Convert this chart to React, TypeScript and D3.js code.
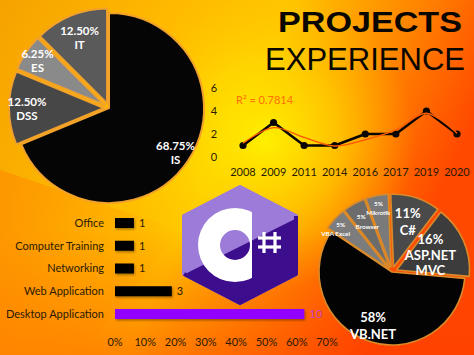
import React from "react";
import * as d3 from "d3";

// ---------- DATA ----------
const areaLabels = ["IS", "DSS", "ES", "IT"];
const areaShares = [68.75, 12.5, 6.25, 12.5];
const areaShareLabels = ["68.75%", "12.50%", "6.25%", "12.50%"];

const years = ["2008", "2009", "2011", "2014", "2016", "2017", "2019", "2020"];
const projectsPerYear = [1, 3, 1, 1, 2, 2, 4, 2];
const trendValues = [1.2, 2.55, 1.7, 0.96, 1.5, 2.35, 3.8, 2.06];
const yTicks = [0, 2, 4, 6];
const rSquaredLabel = "R² = 0.7814";

const appCategories = ["Office", "Computer Training", "Networking", "Web Application", "Desktop Application"];
const appCounts = [1, 1, 1, 3, 10];
const shareTicks = [0, 0.1, 0.2, 0.3, 0.4, 0.5, 0.6, 0.7];

const techLabels = ["VB.NET", "VBA Excel", "Browser", "Mikrotik", "C#", "ASP.NET MVC"];
const techShares = [58, 5, 5, 5, 11, 16];
const techShareLabels = ["58%", "5%", "5%", "5%", "11%", "16%"];

// ---------- STYLE ----------
const FONT = "Lato, 'Open Sans', sans-serif";
const W = 474;
const H = 355;
const TXT = "#2a1a00";

export default function App() {
  // top-left pie
  const aCx = 109, aCy = 108, aR = 95;
  const pieA = d3.pie<number>().sort(null).startAngle(0).endAngle(2 * Math.PI)(areaShares);
  const arcA = d3.arc<d3.PieArcDatum<number>>().innerRadius(0).outerRadius(aR);
  const areaFill = ["#050505", "#474747", "#8a8a8a", "#5a5a5a"];
  const areaLabelR = [80, 82, 86, 77];

  // line chart
  const x = d3.scalePoint<string>().domain(years).range([243, 457]);
  const y = d3.scaleLinear().domain([0, 6]).range([157, 88]);
  const line = d3.line<number>().x((_, i) => x(years[i])!).y((d) => y(d));
  const trend = d3
    .line<number>()
    .x((_, i) => x(years[i])!)
    .y((d) => y(d))
    .curve(d3.curveCatmullRom.alpha(0.5));

  // bar chart
  const total = d3.sum(appCounts);
  const bx = d3.scaleLinear().domain([0, 0.7]).range([115, 327]);
  const by = d3.scalePoint<string>().domain(appCategories).range([223, 314]);
  const barH = 10;

  // bottom-right pie
  const bCx = 392, bCy = 272, bR = 73;
  const start = (95 * Math.PI) / 180;
  const pieB = d3.pie<number>().sort(null).startAngle(start).endAngle(start + 2 * Math.PI)(techShares);
  const arcB = d3.arc<d3.PieArcDatum<number>>().innerRadius(0).outerRadius(bR);
  const techFill = ["#030303", "#7c7c7c", "#6c6c6c", "#7a7a7a", "#4a4a4a", "#3c3c3c"];
  const techLabelR = [57, 70, 63, 70, 52, 42];
  const techNameDx = [0, -5, 6, 0, 0, 0];

  // C# logo geometry
  const lx = 240, ly = 245, hw = 56, hh = 58;
  const hex = [
    [lx, ly - hh],
    [lx + hw, ly - hh / 2],
    [lx + hw, ly + hh / 2],
    [lx, ly + hh],
    [lx - hw, ly + hh / 2],
    [lx - hw, ly - hh / 2],
  ];
  const hexPath = "M" + hex.map((p) => p.join(",")).join("L") + "Z";
  const cX = 235, cY = 245;

  return (
    <div style={{ position: "fixed", left: 0, top: 0 }}>
      <svg width={W} height={H} viewBox={`0 0 ${W} ${H}`} style={{ display: "block" }}>
        <defs>
          <linearGradient id="bg" x1="0" y1="0" x2="1" y2="0.35">
            <stop offset="0" stopColor="#f6a200" />
            <stop offset="0.35" stopColor="#ffbb00" />
            <stop offset="0.55" stopColor="#ffc400" />
            <stop offset="0.8" stopColor="#ff8200" />
            <stop offset="1" stopColor="#ff4800" />
          </linearGradient>
          <radialGradient id="glow" cx="265" cy="140" r="150" gradientUnits="userSpaceOnUse">
            <stop offset="0" stopColor="#fff200" stopOpacity="0.95" />
            <stop offset="0.5" stopColor="#ffe000" stopOpacity="0.6" />
            <stop offset="1" stopColor="#ffd000" stopOpacity="0" />
          </radialGradient>
          <linearGradient id="bottom" x1="0" y1="0" x2="0" y2="1">
            <stop offset="0" stopColor="#ff3a00" stopOpacity="0" />
            <stop offset="1" stopColor="#ff3a00" stopOpacity="0.45" />
          </linearGradient>
          <linearGradient id="leftDark" x1="0" y1="0" x2="1" y2="0">
            <stop offset="0" stopColor="#ff8800" stopOpacity="0.6" />
            <stop offset="1" stopColor="#ff8800" stopOpacity="0" />
          </linearGradient>
          <clipPath id="cclip">
            <rect x={cX - 45} y={cY - 45} width={45 + 17} height={90} />
          </clipPath>
          <clipPath id="hexclip">
            <path d={hexPath} />
          </clipPath>
          <filter id="sh" x="-10%" y="-10%" width="130%" height="140%">
            <feDropShadow dx="1" dy="1.5" stdDeviation="1" floodColor="#000" floodOpacity="0.35" />
          </filter>
        </defs>

        {/* background */}
        <rect width={W} height={H} fill="url(#bg)" />
        <rect width={W} height={H} fill="url(#glow)" />
        <rect y={230} width={W} height={125} fill="url(#bottom)" />
        <path d="M0,170 L180,230 L80,355 L0,355 Z" fill="url(#leftDark)" />

        {/* top-left pie */}
        <g transform={`translate(${aCx},${aCy})`}>
          {pieA.map((d, i) => {
            const mid = (d.startAngle + d.endAngle) / 2;
            const off = i === 0 ? 0 : 5;
            return (
              <path
                key={i}
                d={arcA(d)!}
                transform={`translate(${Math.sin(mid) * off},${-Math.cos(mid) * off})`}
                fill={areaFill[i]}
                stroke="#f2a22a"
                strokeWidth={2}
                strokeLinejoin="round"
              />
            );
          })}
          {pieA.map((d, i) => {
            const mid = (d.startAngle + d.endAngle) / 2;
            const r = areaLabelR[i];
            const px = Math.sin(mid) * r, py = -Math.cos(mid) * r;
            return (
              <text key={i} x={px} y={py} fill="#fff" fontFamily={FONT} fontWeight={700} fontSize={11.5} textAnchor="middle">
                <tspan x={px} dy="-2">{areaShareLabels[i]}</tspan>
                <tspan x={px} dy="14">{areaLabels[i]}</tspan>
              </text>
            );
          })}
        </g>

        {/* title */}
        <text x={278} y={32} fontFamily="'Liberation Sans', Arial, sans-serif" fontWeight={700} fontSize={29} fill="#0a0600" textLength={184} lengthAdjust="spacingAndGlyphs">PROJECTS</text>
        <text x={265} y={70} fontFamily="'Liberation Sans', Arial, sans-serif" fontWeight={400} fontSize={31} fill="#0a0600" textLength={200} lengthAdjust="spacingAndGlyphs">EXPERIENCE</text>

        {/* line chart */}
        {yTicks.map((t) => (
          <text key={t} x={214} y={y(t)} dy="0.35em" textAnchor="middle" fontFamily={FONT} fontSize={11} fill={TXT}>{t}</text>
        ))}
        {years.map((yr) => (
          <text key={yr} x={x(yr)} y={172} dy="0.35em" textAnchor="middle" fontFamily={FONT} fontSize={11} fill={TXT}>{yr}</text>
        ))}
        <path d={line(projectsPerYear)!} fill="none" stroke="#0a0500" strokeWidth={2.6} strokeLinejoin="round" />
        {projectsPerYear.map((v, i) => (
          <circle key={i} cx={x(years[i])} cy={y(v)} r={3.6} fill="#0a0500" />
        ))}
        <path d={trend(trendValues)!} fill="none" stroke="#ff5a00" strokeWidth={1.4} />
        <text x={236} y={100} dy="0.35em" fontFamily={FONT} fontSize={11} fill="#ff7000">{rSquaredLabel}</text>

        {/* bar chart */}
        {appCategories.map((c, i) => {
          const share = appCounts[i] / total;
          const isLast = i === appCategories.length - 1;
          const yc = by(c)!;
          return (
            <g key={c}>
              <text x={104} y={yc} dy="0.35em" textAnchor="end" fontFamily={FONT} fontSize={11} fill={TXT}>{c}</text>
              <rect x={bx(0)} y={yc - barH / 2} width={bx(share) - bx(0)} height={barH} fill={isLast ? "#9200ff" : "#050200"} filter="url(#sh)" />
              <text x={bx(share) + 5} y={yc} dy="0.35em" fontFamily={FONT} fontSize={11} fill={isLast ? "#c53fc0" : TXT}>{appCounts[i]}</text>
            </g>
          );
        })}
        {shareTicks.map((t) => (
          <text key={t} x={bx(t)} y={342} dy="0.35em" textAnchor="middle" fontFamily={FONT} fontSize={11} fill={TXT}>{d3.format(".0%")(t)}</text>
        ))}

        {/* C# logo */}
        <g>
          <path d={hexPath} fill="#9c7cd8" stroke="#9c7cd8" strokeWidth={4} strokeLinejoin="round" />
          <g clipPath="url(#hexclip)">
            <path d={`M${lx + hw + 5},${ly - hh / 2} L${lx - hw - 5},${ly + hh / 2 + 3} L${lx - hw - 5},${ly + hh + 5} L${lx + hw + 5},${ly + hh + 5} Z`} fill="#3c0e8e" />
          </g>
          <path d={`M${lx + hw},${ly - hh / 2} L${lx + hw},${ly + hh / 2} L${lx},${ly + hh} L${lx - hw},${ly + hh / 2}`} fill="none" stroke="#3c0e8e" strokeWidth={4} strokeLinejoin="round" />
          <g clipPath="url(#cclip)">
            <path
              d={`M${cX - 37},${cY} a37,37 0 1,0 74,0 a37,37 0 1,0 -74,0 Z M${cX - 15},${cY} a15,15 0 1,1 30,0 a15,15 0 1,1 -30,0 Z`}
              fill="#fff"
              fillRule="evenodd"
            />
          </g>
          <g stroke="#fff" strokeWidth={3.2}>
            <line x1={264} y1={232} x2={264} y2={253} />
            <line x1={275} y1={232} x2={275} y2={253} />
            <line x1={258} y1={238} x2={281} y2={238} />
            <line x1={258} y1={247} x2={281} y2={247} />
          </g>
        </g>

        {/* bottom-right pie */}
        <g transform={`translate(${bCx},${bCy})`}>
          {pieB.map((d, i) => {
            const mid = (d.startAngle + d.endAngle) / 2;
            const off = i === 0 ? 0 : 5;
            return (
              <path
                key={i}
                d={arcB(d)!}
                transform={`translate(${Math.sin(mid) * off},${-Math.cos(mid) * off})`}
                fill={techFill[i]}
                stroke="#d98a2a"
                strokeWidth={1.6}
                strokeLinejoin="round"
              />
            );
          })}
          {pieB.map((d, i) => {
            const mid = (d.startAngle + d.endAngle) / 2;
            const r = techLabelR[i];
            const px = Math.sin(mid) * r, py = -Math.cos(mid) * r;
            const small = techShares[i] < 10;
            if (small) {
              return (
                <text key={i} fill="#fff" fontFamily={FONT} fontWeight={700} fontSize={6.3} textAnchor="middle">
                  <tspan x={px} y={py} dy="0.35em">{techShareLabels[i]}</tspan>
                  <tspan x={px + techNameDx[i]} y={py + 9.5} dy="0.35em">{techLabels[i]}</tspan>
                </text>
              );
            }
            const lh = i === 5 ? 15.5 : 17;
            const words = i === 5 ? ["ASP.NET", "MVC"] : [techLabels[i]];
            const lines = [techShareLabels[i], ...words];
            const y0 = -((lines.length - 1) * lh) / 2;
            return (
              <text key={i} fill="#fff" fontFamily={FONT} fontWeight={700} fontSize={13} textAnchor="middle">
                {lines.map((l, k) => (
                  <tspan key={k} x={px} y={py + y0 + k * lh} dy="0.35em">{l}</tspan>
                ))}
              </text>
            );
          })}
        </g>
      </svg>
    </div>
  );
}
